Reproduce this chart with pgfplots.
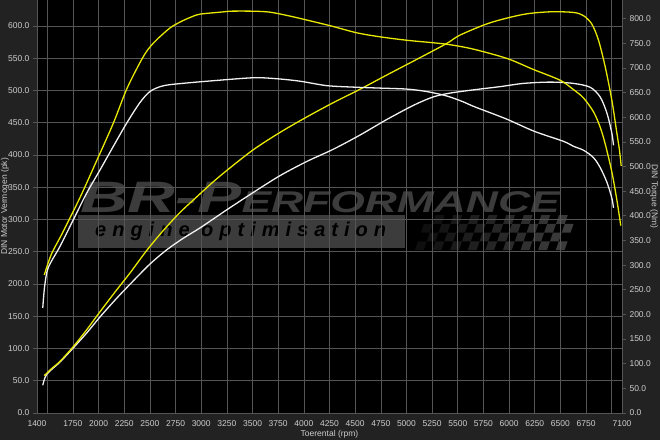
\documentclass[border=0pt]{standalone}
\usepackage{fontspec}
\setmainfont{Liberation Sans}
\newfontfamily\logofont{Liberation Sans}[LetterSpace=30]
\usepackage{graphicx}
\usepackage{pgfplots}
\pgfplotsset{compat=1.18}
\definecolor{bgc}{HTML}{222222}
\definecolor{gridc}{HTML}{555555}
\definecolor{txtc}{HTML}{CCCCCC}
\definecolor{ylw}{HTML}{E8E800}
\definecolor{wht}{HTML}{F0F0F0}
\definecolor{logoc}{HTML}{3C3C3C}

\pgfplotstableread{
rpm val
1471 58
1550 70
1624 80
1754 103
1884 129
2014 157
2177 191
2306 217
2469 252
2631 283
2794 311
2956 335
3100 356
3249 376
3506 408
3768 435
4029 459
4285 481
4548 502
4808 524
5133 551
5393 573
5523 586
5815 605
6140 618
6400 622
6627 621
6725 616
6806 603
6871 578
6936 537
7001 485
7050 434
7075 408
7092 383
}\pwrY

\pgfplotstableread{
rpm val
1456 43
1495 60
1624 79
1754 101
1884 124
2014 149
2177 178
2339 205
2501 231
2664 253
2826 271
2989 287
3249 315
3508 342
3768 368
4029 390
4288 409
4548 431
4808 455
5068 477
5260 490
5425 496
5653 501
5913 506
6140 511
6400 513
6627 511
6790 505
6887 490
6953 465
7001 434
7017 415
}\pwrW

\pgfplotstableread{
rpm val
1471 280
1540 322
1650 366
1819 437
1982 512
2144 588
2274 657
2404 711
2480 737
2566 757
2696 781
2794 793
2900 803
2989 809
3184 813
3281 815
3505 815
3671 813
3866 805
4090 794
4285 784
4519 771
4743 763
5006 756
5260 751
5425 747
5653 738
5981 719
6234 697
6497 675
6627 656
6725 639
6822 611
6887 580
6936 546
7001 489
7050 432
7088 380
}\trqY

\pgfplotstableread{
rpm val
1456 213
1475 258
1510 295
1624 338
1754 392
1884 446
2014 493
2144 541
2274 588
2404 630
2500 652
2600 662
2696 666
2891 670
3118 674
3508 680
3736 678
3963 673
4223 664
4483 661
4743 659
5003 657
5198 652
5393 643
5555 631
5653 622
5880 604
6000 594
6250 571
6530 551
6627 541
6725 533
6822 518
6887 498
6953 468
7001 436
7017 416
}\trqW

\begin{document}
\begin{tikzpicture}
% background and plot area
\fill[bgc] (-37pt,-27pt) rectangle (623pt,413pt);
\fill[black] (0pt,0pt) rectangle (585pt,413pt);
% watermark logo
\fill[logoc] (41pt,165pt) rectangle (368pt,198pt);
\node[anchor=base west, inner sep=0pt, text=logoc] at (43pt,201pt)
  {\scalebox{1.5}[1]{\fontsize{44}{44}\selectfont\bfseries\itshape BR-P}\scalebox{1.48}[1]{\fontsize{30}{30}\selectfont\bfseries\itshape ERFORMANCE}};
\node[anchor=base west, inner sep=0pt, text=black] at (58pt,177pt)
  {\logofont\fontsize{20}{20}\selectfont\bfseries\itshape engine optimisation};
\begin{scope}[shift={(378pt,163pt)}]
  \foreach \i in {0,...,16} {
    \foreach \j in {0,...,3} {
      \pgfmathtruncatemacro\m{mod(\i+\j,2)}
      \pgfmathsetmacro\op{0.25+0.75*\i/16}
      \ifnum\m=0
        \fill[logoc, opacity=\op] ({\i*8.8pt+\j*3pt},{\j*8.75pt}) -- ++(8.8pt,0) -- ++(3pt,8.75pt) -- ++(-8.8pt,0) -- cycle;
      \fi
    }
  }
\end{scope}

\begin{axis}[
  at={(0pt,0pt)}, anchor=south west,
  scale only axis, width=585pt, height=413pt,
  xmin=1400, xmax=7100, ymin=0, ymax=640.3,
  xtick={1400,1500,1750,2000,2250,2500,2750,3000,3250,3500,3750,4000,4250,4500,4750,5000,5250,5500,5750,6000,6250,6500,6750,7000,7100},
  xticklabels={1400,,1750,2000,2250,2500,2750,3000,3250,3500,3750,4000,4250,4500,4750,5000,5250,5500,5750,6000,6250,6500,6750,,7100},
  ytick={0,50,...,600},
  grid=major, grid style={gridc, line width=0.6pt},
  axis line style={draw=none},
  xtick style={draw=none},
  ytick style={gridc, line width=0.6pt},
  tick align=outside, major tick length=4pt,
  ytick pos=left, xtick pos=bottom,
  tick label style={font=\fontsize{8.5}{10}\selectfont, text=txtc},
  yticklabel={\pgfmathprintnumber[fixed,fixed zerofill,precision=1,assume math mode=true]{\tick}},
  xticklabel style={/pgf/number format/assume math mode=true},
  xlabel={Toerental (rpm)}, ylabel={DIN Motor Vermogen (pk)},
  label style={font=\fontsize{8.5}{10}\selectfont, text=txtc},
  xlabel style={at={(axis description cs:0.5,-0.0508)}, anchor=center},
  ylabel style={at={(axis description cs:-0.0547,0.5)}, anchor=center},
]
\addplot[wht, line width=1.3pt, smooth, tension=0.5] table[x=rpm,y=val] {\pwrW};
\addplot[ylw, line width=1.3pt, smooth, tension=0.5] table[x=rpm,y=val] {\pwrY};
\end{axis}

\begin{axis}[
  at={(0pt,0pt)}, anchor=south west,
  scale only axis, width=585pt, height=413pt,
  xmin=1400, xmax=7100, ymin=0, ymax=837.7,
  hide x axis,
  axis line style={draw=none},
  ytick={0,50,...,800},
  ytick pos=right,
  ytick style={gridc, line width=0.6pt},
  tick align=outside, major tick length=4pt,
  tick label style={font=\fontsize{8.5}{10}\selectfont, text=txtc},
  yticklabel={\pgfmathprintnumber[fixed,fixed zerofill,precision=1,assume math mode=true]{\tick}},
  ylabel={DIN Torque (Nm)},
  label style={font=\fontsize{8.5}{10}\selectfont, text=txtc},
  ylabel style={at={(axis description cs:1.0547,0.525)}, anchor=center, rotate=180},
]
\addplot[wht, line width=1.3pt, smooth, tension=0.5] table[x=rpm,y=val] {\trqW};
\addplot[ylw, line width=1.3pt, smooth, tension=0.5] table[x=rpm,y=val] {\trqY};
\end{axis}
\pgfresetboundingbox
\useasboundingbox (-37pt,-27pt) rectangle (623pt,413pt);
\end{tikzpicture}
\end{document}
